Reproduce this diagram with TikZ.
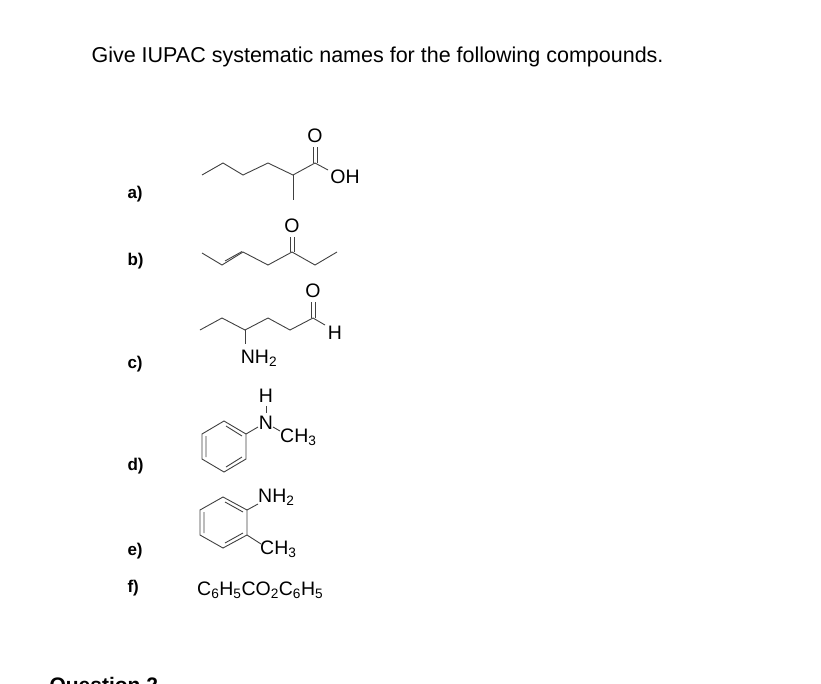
\documentclass[tikz,border=0pt]{standalone}
\usepackage{fontspec}
\setmainfont{Liberation Sans}
\begin{document}
\begin{tikzpicture}[x=1pt,y=-1pt,bond/.style={line width=0.9pt,draw=black!75},
 lab/.style={font=\fontsize{17}{17}\selectfont\bfseries,anchor=west},
 atm/.style={font=\fontsize{19.5}{19}\selectfont,inner sep=1pt}]
\useasboundingbox (0,0) rectangle (821,683);
\node[font=\fontsize{21.5}{22}\selectfont,anchor=west] (title) at (88,57) {Give IUPAC systematic names for the following compounds.};
\node[lab] (la) at (124,194) {a)};
\node[lab] (lb) at (124,261) {b)};
\node[lab] (lc) at (124,364) {c)};
\node[lab] (ld) at (124,466) {d)};
\node[lab] (le) at (124,551) {e)};
\node[lab] (lf) at (124,588) {f)};
\node[font=\fontsize{21}{22}\selectfont\bfseries,anchor=west] (q) at (46,687) {Question 2};
% a
\draw[bond] (202,175)--(223,163)--(243,175)--(268,163)--(293,175)--(315,163)--(328,170);
\draw[bond] (293,175)--(293,200);
\draw[bond] (313,163)--(313,147) (317,163)--(317,147);
\node[atm] (oa) at (315,136) {O};
\node[atm] (oh) at (345,177) {OH};
% b
\draw[bond] (202,253)--(222,265)--(243,252)--(268,265)--(292,252)--(315,265)--(337,252);
\draw[bond] (225,261)--(242,251.5);
\draw[bond] (290,252)--(290,237) (294,252)--(294,237);
\node[atm] (ob) at (292,226) {O};
% c
\draw[bond] (200,330)--(222,318)--(245,330)--(268,318)--(290,330)--(313,318)--(325,325);
\draw[bond] (311,318)--(311,302) (315,318)--(315,302);
\node[atm] (oc) at (313,291) {O};
\node[atm] (hc) at (335,333) {H};
\draw[bond] (245,330)--(245,344);
\node[atm] (nh) at (259,358) {NH\textsubscript{2}};
% d
\draw[bond] (224,421)--(246,434)--(246,459)--(224,472)--(202,459)--(202,434)--cycle;
\draw[bond] (226,426)--(242,436) (242,457)--(226,467) (206,457)--(206,436);
\draw[bond] (246,434)--(258,427);
\node[atm] (nd) at (266,423) {N};
\node[atm] (hd) at (266,396) {H};
\draw[bond] (266,406)--(266,413);
\draw[bond] (273,427)--(280,431);
\node[atm,anchor=west] (cd) at (279,437) {CH\textsubscript{3}};
% e
\draw[bond] (223,497)--(247,510)--(247,535)--(223,548)--(200,535)--(200,510)--cycle;
\draw[bond] (225,502)--(243,512) (243,533)--(225,543) (204,533)--(204,512);
\draw[bond] (247,510)--(258,504) (247,535)--(261,544);
\node[atm,anchor=west] (ne) at (257,497) {NH\textsubscript{2}};
\node[atm,anchor=west] (ce) at (259,549) {CH\textsubscript{3}};
% f
\node[atm,anchor=west] (ff) at (196,590) {C\textsubscript{6}H\textsubscript{5}CO\textsubscript{2}C\textsubscript{6}H\textsubscript{5}};
\end{tikzpicture}
\end{document}
